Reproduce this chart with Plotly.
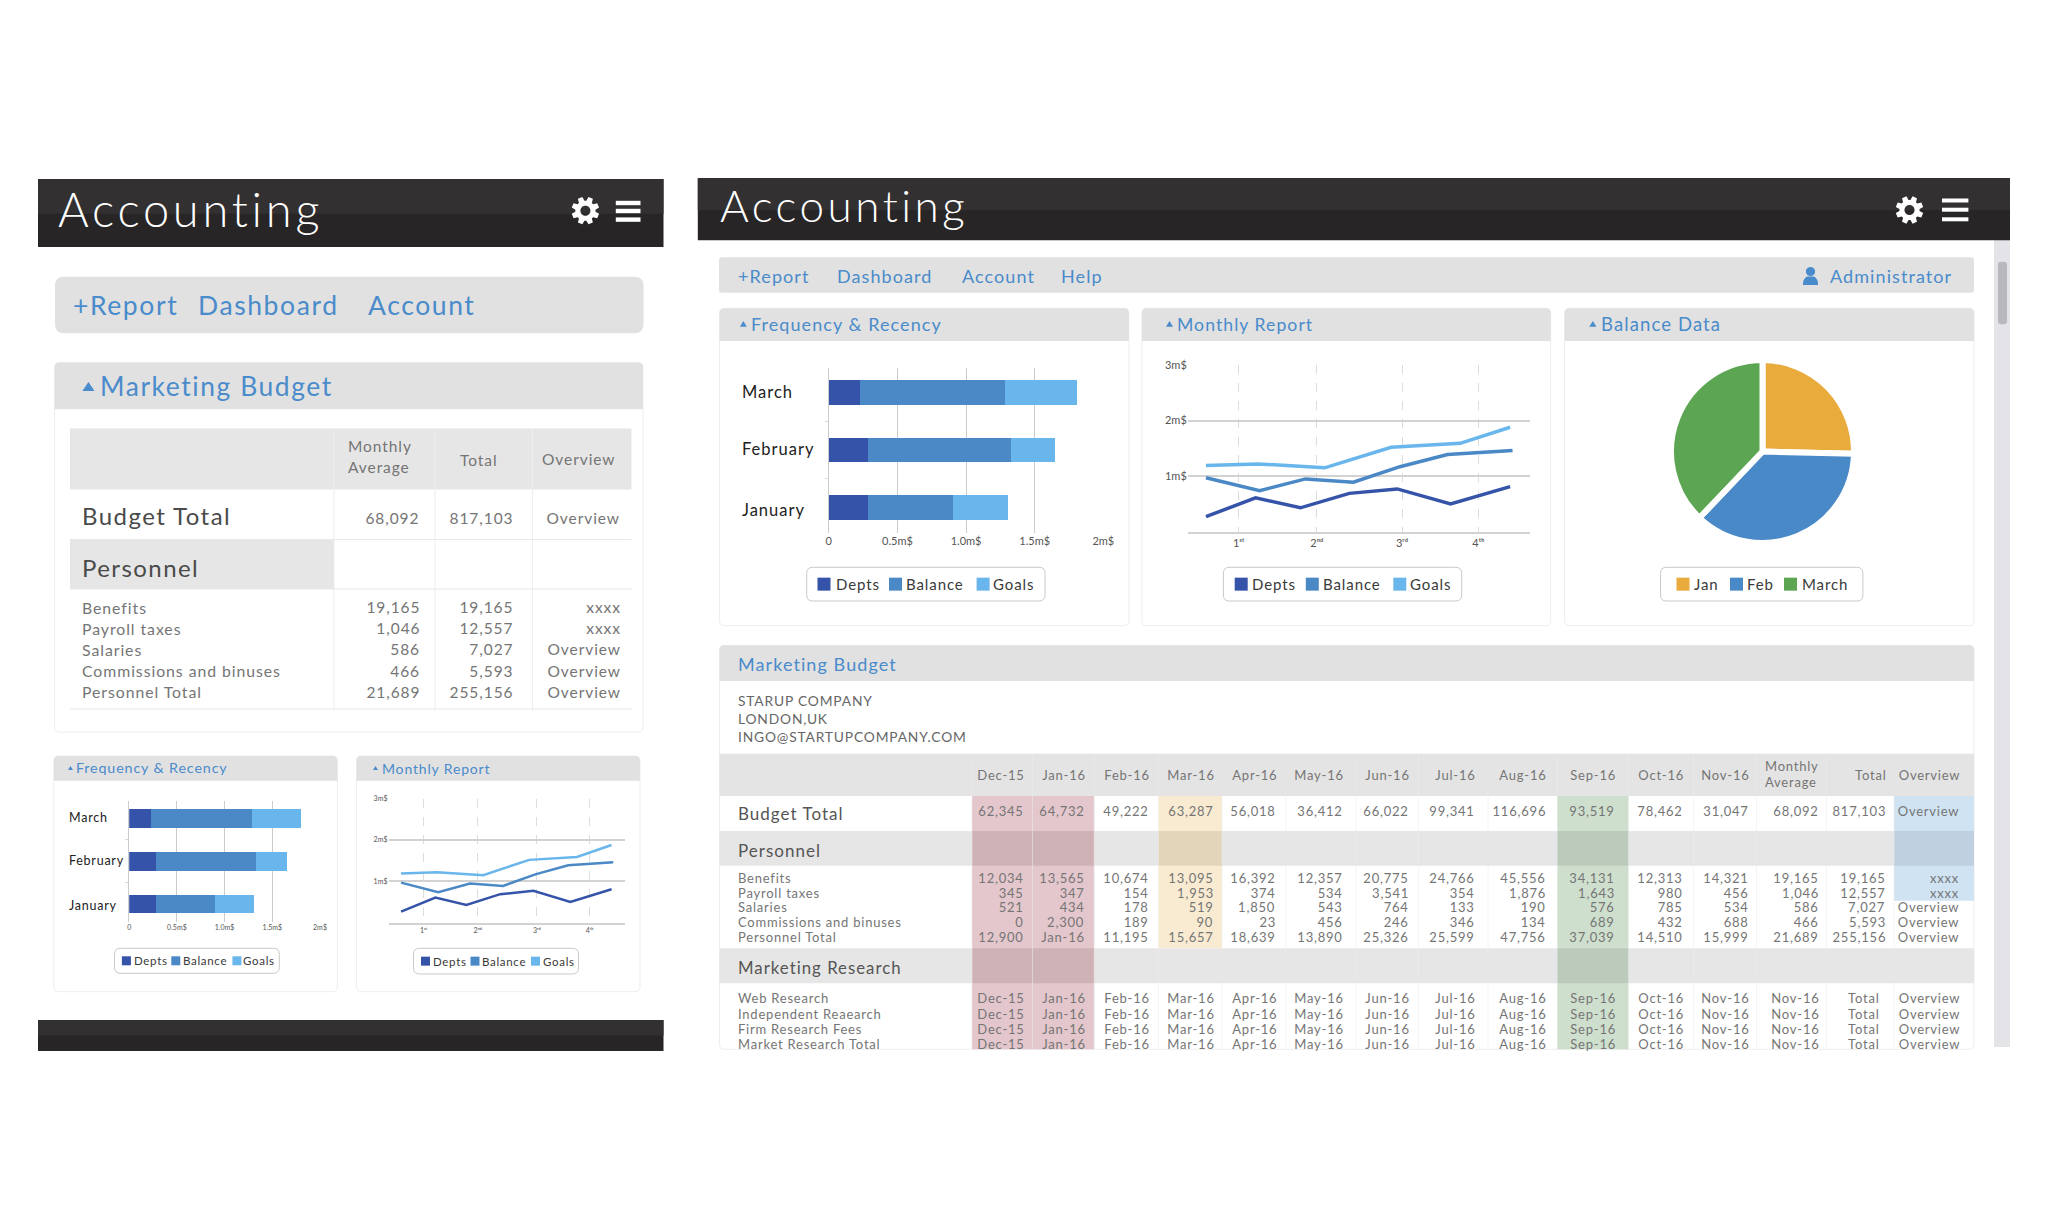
import numpy as np
import plotly.graph_objects as go

# ---- chart data ----
bar_months = ["January", "February", "March"]
bar_depts = [0.285, 0.285, 0.227]
bar_balance = [0.619, 1.046, 1.055]
bar_goals = [0.404, 0.320, 0.524]
bar_ticks = [0, 0.5, 1, 1.5, 2]
bar_tick_text = ["0", "0.5m$", "1.0m$", "1.5m$", "2m$"]

week_ticks = [14.85, 37.7, 62.6, 84.9]
week_text = ["1ˢᵗ", "2ⁿᵈ", "3ʳᵈ", "4ᵗʰ"]
money_ticks = [1, 2, 3]
money_text = ["1m$", "2m$", "3m$"]
goals_x = [5.3, 20.5, 40, 59.4, 79.6, 94.2]
goals_y = [1.19, 1.22, 1.15, 1.52, 1.59, 1.88]
balance_x = [5.3, 21, 34.4, 48.4, 62, 75.9, 94.9]
balance_y = [0.97, 0.74, 0.95, 0.89, 1.17, 1.39, 1.46]
depts_x = [5.3, 19.8, 32.9, 47.2, 61.2, 76.8, 94.2]
depts_y = [0.27, 0.61, 0.43, 0.69, 0.77, 0.50, 0.81]

pie_labels = ["Jan", "Feb", "March"]
pie_values = [25.4, 36.7, 37.9]

# ---- table data ----
table_head = ["Dec-15", "Jan-16", "Feb-16", "Mar-16", "Apr-16", "May-16", "Jun-16", "Jul-16",
              "Aug-16", "Sep-16", "Oct-16", "Nov-16", "", "Total", "Overview"]
budget_total = ["62,345", "64,732", "49,222", "63,287", "56,018", "36,412", "66,022", "99,341",
                "116,696", "93,519", "78,462", "31,047", "68,092", "817,103", "Overview"]
benefits = ["12,034", "13,565", "10,674", "13,095", "16,392", "12,357", "20,775", "24,766",
            "45,556", "34,131", "12,313", "14,321", "19,165", "19,165", "xxxx"]
payroll = ["345", "347", "154", "1,953", "374", "534", "3,541", "354",
           "1,876", "1,643", "980", "456", "1,046", "12,557", "xxxx"]
salaries = ["521", "434", "178", "519", "1,850", "543", "764", "133",
            "190", "576", "785", "534", "586", "7,027", "Overview"]
commissions = ["0", "2,300", "189", "90", "23", "456", "246", "346",
               "134", "689", "432", "688", "466", "5,593", "Overview"]
personnel_total = ["12,900", "Jan-16", "11,195", "15,657", "18,639", "13,890", "25,326", "25,599",
                   "47,756", "37,039", "14,510", "15,999", "21,689", "255,156", "Overview"]
research_row = ["Dec-15", "Jan-16", "Feb-16", "Mar-16", "Apr-16", "May-16", "Jun-16", "Jul-16",
                "Aug-16", "Sep-16", "Oct-16", "Nov-16", "Nov-16", "Total", "Overview"]
personnel_labels = ["Benefits", "Payroll taxes", "Salaries", "Commissions and binuses", "Personnel Total"]
personnel_rows = [benefits, payroll, salaries, commissions, personnel_total]
research_labels = ["Web Research", "Independent Reaearch", "Firm Research Fees", "Market Research Total"]
company_lines = ["STARUP COMPANY", "LONDON,UK", "INGO@STARTUPCOMPANY.COM"]

# ---- colours ----
C_DEPTS = "#3553a8"
C_BALANCE = "#4a88c6"
C_GOALS = "#69b6ec"
C_LINK = "#4a8bcb"
C_BAND = "#e1e1e1"
C_ROW = "#e6e6e6"
C_TEXT = "#757575"
FONT = "Lato"

shapes = []
notes = []


def rect(x0, y0, x1, y1, fill, line=None):
    shapes.append(dict(type="rect", xref="x", yref="y", x0=x0, y0=y0, x1=x1, y1=y1, fillcolor=fill,
                       line=dict(color=line or fill, width=1 if line else 0), layer="below"))


def rrect(x0, y0, x1, y1, r, fill, line=None, top_only=False):
    b = f"L{x1},{y1} L{x0},{y1} " if top_only else (
        f"L{x1},{y1-r} Q{x1},{y1} {x1-r},{y1} L{x0+r},{y1} Q{x0},{y1} {x0},{y1-r} ")
    p = f"M{x0},{y0+r} Q{x0},{y0} {x0+r},{y0} L{x1-r},{y0} Q{x1},{y0} {x1},{y0+r} " + b + "Z"
    shapes.append(dict(type="path", xref="x", yref="y", path=p, fillcolor=fill,
                       line=dict(color=line or fill, width=1 if line else 0), layer="below"))


def path(p, fill):
    shapes.append(dict(type="path", xref="x", yref="y", path=p, fillcolor=fill, line=dict(width=0), layer="below"))


def label(x, y, text, size, color=C_TEXT, anchor="left", weight=None):
    f = dict(family=FONT, size=size, color=color)
    if weight:
        f["weight"] = weight
    # trailing letter spacing pulls right aligned text in a little
    if anchor == "right":
        x += 1
    notes.append(dict(xref="x", yref="y", x=x, y=y, text=text, showarrow=False, xanchor=anchor, yanchor="middle",
                      align=anchor, font=f, borderpad=0, borderwidth=0))


def triangle(x0, x1, y0, y1):
    path(f"M{(x0+x1)/2},{y0} L{x1},{y1} L{x0},{y1} Z", C_LINK)


def ring(cx, cy, r, n=40, reverse=False):
    t = np.linspace(0, 2 * np.pi, n, endpoint=False)
    if reverse:
        t = t[::-1]
    pts = [f"{cx + r*np.cos(a):.2f},{cy + r*np.sin(a):.2f}" for a in t]
    return "M" + " L".join(pts) + " Z "


def gear(cx, cy, r):
    pts = []
    for i in range(8):
        a = 2 * np.pi * i / 8 - np.pi / 8
        for da, rr in [(-0.30, 0.72), (-0.17, 1.0), (0.17, 1.0), (0.30, 0.72)]:
            pts.append(f"{cx + r*rr*np.cos(a+da):.2f},{cy + r*rr*np.sin(a+da):.2f}")
    path("M" + " L".join(pts) + " Z " + ring(cx, cy, r * 0.36, reverse=True), "#ffffff")


def top_bar(x0, x1, y0, y1, mid):
    rect(x0, y0, x1, y1, "#272526")
    rect(x0, y0, x1, mid, "#323031")


def burger(x0, x1, bars, h):
    for y in bars:
        rect(x0, y - h / 2, x1, y + h / 2, "#ffffff")


def card(x0, x1, y0, y_head, y1):
    rrect(x0, y0, x1, y1, 5, "#ffffff", line="#eeeeee")
    rrect(x0, y0, x1, y_head, 5, C_BAND, top_only=True)


def legend_box(x0, x1, y0, y1, items, sw_w, sw_h, size):
    rrect(x0, y0, x1, y1, 6, "#ffffff", line="#c9c9c9")
    cy = (y0 + y1) / 2
    for sx, tx, name, col in items:
        rect(sx, cy - sw_h / 2, sx + sw_w, cy + sw_h / 2, col)
        label(tx, cy, name, size, "#3a3a3a")


fig = go.Figure()
# full page canvas in pixels, everything that is not a chart hangs off it
fig.add_trace(go.Scatter(x=[0, 2048], y=[0, 1229], mode="markers", marker=dict(opacity=0), hoverinfo="skip",
                         showlegend=False))


def px_x(a):
    return a / 2048


def px_y(a):
    return 1 - a / 1229


def bar_chart(n, x0, x1, y0, y1, yrange, tick_size):
    for vals, col in zip([bar_depts, bar_balance, bar_goals], [C_DEPTS, C_BALANCE, C_GOALS]):
        fig.add_trace(go.Bar(y=list(range(len(bar_months))), x=vals, orientation="h", width=0.43,
                             marker=dict(color=col, line=dict(width=0)), xaxis=f"x{n}", yaxis=f"y{n}",
                             showlegend=False, hoverinfo="skip"))
    fig.update_layout({
        f"xaxis{n}": dict(domain=[px_x(x0), px_x(x1)], range=[0, 2], anchor=f"y{n}", tickvals=bar_ticks,
                          ticktext=bar_tick_text, tickfont=dict(family=FONT, size=tick_size, color="#555555"),
                          showgrid=True, gridcolor="#cccccc", gridwidth=1, zeroline=False, ticks="",
                          automargin=False),
        f"yaxis{n}": dict(domain=[px_y(y1), px_y(y0)], range=yrange, anchor=f"x{n}", tickvals=[0.5, 1.5],
                          showticklabels=False, ticks="outside", ticklen=3, tickcolor="#d8d8d8", showgrid=False,
                          zeroline=False, showline=True, linecolor="#cccccc", linewidth=1, automargin=False),
    })


def line_chart(n, x0, x1, y0, y1, width, tick_size):
    for xs, ys, col in [(goals_x, goals_y, C_GOALS), (balance_x, balance_y, C_BALANCE), (depts_x, depts_y, C_DEPTS)]:
        fig.add_trace(go.Scatter(x=xs, y=ys, mode="lines", line=dict(color=col, width=width), xaxis=f"x{n}",
                                 yaxis=f"y{n}", showlegend=False, hoverinfo="skip"))
    fig.update_layout({
        f"xaxis{n}": dict(domain=[px_x(x0), px_x(x1)], range=[0, 100], anchor=f"y{n}", tickvals=week_ticks,
                          ticktext=week_text, tickfont=dict(family=FONT, size=tick_size, color="#555555"),
                          showgrid=True, griddash="dash", gridcolor="#dddddd", gridwidth=1, zeroline=False,
                          showline=True, linecolor="#d2d2d2", linewidth=1.5, automargin=False),
        f"yaxis{n}": dict(domain=[px_y(y1), px_y(y0)], range=[0, 3], anchor=f"x{n}", tickvals=money_ticks,
                          ticktext=money_text, tickfont=dict(family=FONT, size=tick_size, color="#555555"),
                          showgrid=True, gridcolor="#d2d2d2", gridwidth=1.5, zeroline=False, automargin=False),
    })


# ---------------- left (mobile) panel ----------------
top_bar(38, 663.5, 179, 247, 213.7)
label(58, 209, "Accounting", 47, "#ffffff", weight=300)
gear(585.4, 210.7, 14)
burger(615.8, 640.5, [203, 211, 219.6], 4.4)

rrect(55, 276.7, 643.5, 333.3, 9, C_BAND)
for x, t in zip([73, 197.5, 367.5], ["+Report", "Dashboard", "Account"]):
    label(x, 305, t, 26.5, C_LINK)

card(54.6, 643, 362.6, 409.3, 732)
triangle(82.4, 94.5, 382, 391)
label(100, 386, "Marketing Budget", 26.4, C_LINK)

rect(70, 428.5, 631.4, 489.6, C_ROW)
rect(70, 539.6, 334, 589, C_ROW)
for x in [334, 435, 532.5]:
    rect(x - 0.5, 428.5, x + 0.5, 711, "#eeeeee")
for y in [539.6, 589, 709]:
    rect(70, y - 0.5, 631.4, y + 0.5, "#e8e8e8")

label(348, 446, "Monthly", 15.5)
label(348, 467, "Average", 15.5)
label(460, 460, "Total", 15.5)
label(542, 459, "Overview", 15.5)

label(81.5, 515, "Budget Total", 24, "#4a4a4a")
label(81.5, 567, "Personnel", 24, "#4a4a4a")
for x, v in zip([417.6, 511.7, 619], budget_total[-3:]):
    label(x, 518, v, 15.5, anchor="right")
for y, name, row in zip([607, 628, 649, 670.5, 691.6], personnel_labels, personnel_rows):
    label(81.5, y, name, 15.8)
    for x, v in zip([419, 512, 620], row[-3:]):
        label(x, y, v, 15.5, anchor="right")

card(53.8, 337.4, 756, 780.7, 991.7)
triangle(68, 73, 766, 770)
label(76, 767.7, "Frequency &amp; Recency", 14.3, C_LINK)
bar_chart(2, 129.2, 320, 800.7, 921.7, [-0.409, 2.418], 7)
for y, m in zip([905, 860, 817.7], bar_months):
    label(69.4, y, m, 12.5, "#222222")
legend_box(114.5, 279.3, 948.3, 973.3,
           [(121.9, 134, "Depts", C_DEPTS), (171.3, 183, "Balance", C_BALANCE), (232.4, 243.3, "Goals", C_GOALS)],
           9, 9, 11.5)

card(356.5, 640, 756, 780.7, 991.7)
triangle(373, 378, 766, 770)
label(381.6, 768, "Monthly Report", 14, C_LINK)
line_chart(3, 388.5, 625.3, 798.7, 922.7, 2.5, 7)
legend_box(413.5, 578.5, 948.3, 974,
           [(421, 433, "Depts", C_DEPTS), (470.5, 482, "Balance", C_BALANCE), (531, 542.5, "Goals", C_GOALS)],
           9, 9, 11.5)

top_bar(38, 663.5, 1020, 1051, 1035.5)

# ---------------- right (desktop) panel ----------------
rect(1994, 240, 2010, 1047, "#e4e4e8")
rrect(1998, 261.7, 2007, 324.3, 3, "#b9b9bd")
top_bar(697.8, 2010, 178, 240.3, 210)
label(720, 205, "Accounting", 44, "#ffffff", weight=300)
gear(1909.5, 210, 14)
burger(1942, 1968.4, [200.5, 209.7, 219.3], 4)

rrect(719, 257.3, 1974, 292.7, 3, C_BAND)
for x, t in zip([737.7, 837.4, 962, 1060.8], ["+Report", "Dashboard", "Account", "Help"]):
    label(x, 275.5, t, 18, C_LINK)
label(1829.6, 275.5, "Administrator", 18, C_LINK)
# user icon
path(ring(1810.5, 271.5, 4.6) +
     "M1803,285 Q1802.5,279 1807,276.5 L1814,276.5 Q1818.5,279 1818,285 Z", C_LINK)

card(719.5, 1128.9, 308.3, 341, 625.7)
triangle(739.9, 746.8, 321, 326.7)
label(751, 324, "Frequency &amp; Recency", 18, C_LINK)
bar_chart(4, 828.8, 1103.3, 368.3, 533, [-0.439, 2.42], 11)
for y, m in zip([510, 449.3, 391.7], bar_months):
    label(742, y, m, 16.5, "#222222")
legend_box(806.7, 1045, 567.3, 601,
           [(817.5, 835.7, "Depts", C_DEPTS), (889, 906, "Balance", C_BALANCE), (976.6, 993, "Goals", C_GOALS)],
           13, 13, 15)

card(1141.9, 1550.7, 308.3, 341, 625.7)
triangle(1166, 1173, 321, 326.7)
label(1177, 324, "Monthly Report", 17.6, C_LINK)
line_chart(5, 1187.8, 1530, 365, 531.7, 3.5, 11)
legend_box(1223.4, 1461.7, 567.3, 601,
           [(1234.7, 1252, "Depts", C_DEPTS), (1305.8, 1323, "Balance", C_BALANCE), (1393.3, 1409.8, "Goals", C_GOALS)],
           13, 13, 15)

card(1564.6, 1974, 308.3, 341, 625.7)
triangle(1589.2, 1596.5, 321, 326.7)
label(1600.7, 324, "Balance Data", 18.5, C_LINK)
fig.add_trace(go.Pie(labels=pie_labels, values=pie_values, sort=False, direction="clockwise", rotation=0,
                     textinfo="none", hoverinfo="skip", showlegend=False, automargin=False,
                     marker=dict(colors=["#e9ab3c", "#4a89c7", "#5ca552"], line=dict(color="#ffffff", width=6)),
                     domain=dict(x=[px_x(1671), px_x(1854)], y=[px_y(543), px_y(360)])))
legend_box(1660.5, 1862.9, 567.3, 601,
           [(1676.5, 1694.3, "Jan", "#e9ab3c"), (1730, 1747.4, "Feb", "#4a89c7"), (1784, 1802.3, "March", "#5ca552")],
           13, 13, 15)

# marketing budget table
card(719.5, 1974, 645.3, 681, 1049.3)
label(738, 664, "Marketing Budget", 18, C_LINK)
for y, t in zip([700.7, 718.7, 736.5], company_lines):
    label(738, y, t, 13.8, "#666666")

col_edges = [972, 1032.6, 1094.2, 1158.4, 1222, 1285.9, 1356, 1418.4, 1488, 1557.2, 1628.5, 1693.4,
             1756.5, 1826.5, 1894, 1974]
col_right = [1023, 1083.8, 1148, 1212.6, 1275.4, 1342.2, 1407.6, 1473.8, 1545, 1614.3, 1682, 1748,
             1817.5, 1885, 1958.4]
T_HEAD, T_BUDGET, T_PERS, T_ROWS, T_MR, T_END = 753.7, 796, 831, 865.7, 948.3, 1049.3

rect(719.5, T_HEAD, 1974, T_BUDGET, "#e4e4e4")
rect(719.5, T_PERS, 1974, T_ROWS, C_ROW)
rect(719.5, T_MR, 1974, 983.3, C_ROW)

# highlighted columns: body tint, band tint
for a, b, body, band, bottom in [(972, 1094.2, "#e4c7cc", "#ceb2b6", T_END),
                                 (1158.4, 1222, "#f9ebd2", "#e2d5b9", T_MR),
                                 (1557.2, 1628.5, "#cfdfcd", "#bbcabb", T_END),
                                 (1894, 1974, "#cfe3f3", "#bfd1e1", 900.7)]:
    rect(a, T_BUDGET, b, bottom, body)
    rect(a, T_PERS, b, T_ROWS, band)
    if bottom == T_END:
        rect(a, T_MR, b, 983.3, band)

for x in col_edges[:-1]:
    rect(x - 0.4, T_HEAD, x + 0.4, T_END, "#ececec")
    shapes[-1]["opacity"] = 0.7

for x, t in zip(col_right, table_head):
    if t:
        label(x + 1, 775, t, 13, anchor="right")
label(1765, 766, "Monthly", 13)
label(1765, 782.3, "Average", 13)

label(738, 813.5, "Budget Total", 17, "#555555")
label(738, 850.2, "Personnel", 17, "#555555")
label(738, 967, "Marketing Research", 16.8, "#555555")
for x, v in zip(col_right, budget_total):
    label(x, 811, v, 13, anchor="right")
for y, name, row in zip([878.3, 892.7, 907.3, 922.3, 937], personnel_labels, personnel_rows):
    label(738, y, name, 13)
    for x, v in zip(col_right, row):
        label(x, y, v, 13, anchor="right")
for y, name in zip([998.3, 1014, 1029.3, 1044.3], research_labels):
    label(738, y, name, 13)
    for x, v in zip(col_right, research_row):
        label(x - 6 if v == "Total" else x + 1, y, v, 13, anchor="right")

fig.update_layout(
    width=2048, height=1229, margin=dict(l=0, r=0, t=0, b=0, pad=0), autosize=False,
    paper_bgcolor="#ffffff", plot_bgcolor="rgba(0,0,0,0)", barmode="stack", showlegend=False,
    font=dict(family=FONT),
    xaxis=dict(domain=[0, 1], range=[0, 2048], visible=False, fixedrange=True, automargin=False),
    yaxis=dict(domain=[0, 1], range=[1229, 0], visible=False, fixedrange=True, automargin=False),
    shapes=shapes, annotations=notes,
)

# page margin off, letter spacing as in the reference (plotly has no font option for it)
page_css = ("var s=document.createElement('style');"
            "s.textContent='body{margin:0}.annotation-text{letter-spacing:.06em}';"
            "document.head.appendChild(s);"
            "document.querySelectorAll('.annotation-text').forEach(function(t){"
            "if(parseFloat(t.style.fontSize)>40)t.style.letterSpacing='.08em';});")
fig.write_html("out.html", post_script=page_css, config={"displayModeBar": False})
